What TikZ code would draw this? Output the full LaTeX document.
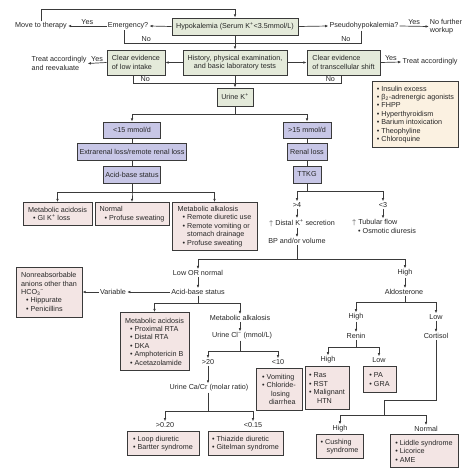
\documentclass[tikz,border=0pt]{standalone}
\usepackage{fontspec}
\setmainfont{Liberation Sans}
\usetikzlibrary{arrows.meta}

\definecolor{boxgreen}{HTML}{E4EADA}
\definecolor{boxblue}{HTML}{C7C6E6}
\definecolor{boxpink}{HTML}{F3E5E4}
\definecolor{boxtan}{HTML}{FBF1E1}
\definecolor{edge}{HTML}{3A3A3A}

\newcommand{\itembul}{\textbullet\ }
\newcommand{\subbul}{\hspace*{5pt}\textbullet\ }
\newcommand{\subcont}{\hspace*{5pt}\phantom{\textbullet\ }}

\begin{document}
\begin{tikzpicture}[x=1pt, y=-1pt,
  font=\fontsize{7.2}{8.4}\selectfont, text=black!85,
  conn/.style={draw=edge, line width=0.7pt},
  arr/.style={conn, -{Latex[length=3.2pt, width=2.6pt]}},
  basebox/.style={draw=edge, line width=1pt, inner sep=2pt, align=center},
  gbox/.style={basebox, fill=boxgreen},
  bbox/.style={basebox, fill=boxblue},
  pbox/.style={basebox, fill=boxpink, align=left, anchor=north},
  lbl/.style={inner sep=1pt, align=center},
  yn/.style={inner sep=1pt, above}]

  \fill[white] (0,0) rectangle (474,471);

  % top row
  \node[gbox, minimum width=126, minimum height=17] (hypo) at (235,26.5) {Hypokalemia (Serum K\textsuperscript{+}<3.5mmol/L)};
  \node[lbl] (emerg) at (128,26) {Emergency?};
  \node[lbl] (therapy) at (41,26) {Move to therapy};
  \node[lbl] (pseudo) at (364,26) {Pseudohypokalemia?};
  \node[lbl, align=left] (nofurther) at (446,26.5) {No further\\workup};
  \coordinate (loop) at (235,9);
  \coordinate (hubA) at (235,43);

  \draw[arr] (therapy.north) |- (loop) -- (hypo.north);
  \draw[arr] (hypo.west) -- (emerg.east);
  \draw[arr] (emerg.west) -- (therapy.east) node[yn, midway] {Yes};
  \draw[arr] (hypo.east) -- (pseudo.west);
  \draw[arr] (pseudo.east) -- (nofurther.west) node[yn, midway] {Yes};
  \draw[conn] ([xshift=-4pt]emerg.south) |- (hubA) node[yn, pos=0.6] {No};
  \draw[conn] ([xshift=-3pt]pseudo.south) |- (hubA) node[yn, pos=0.56] {No};

  % second row
  \node[gbox, minimum width=104, minimum height=25] (hist) at (235,62.5) {History, physical examination,\\and basic laboratory tests};
  \node[gbox, align=left, minimum width=58, minimum height=25] (lowintake) at (136,62.5) {Clear evidence\\of low intake};
  \node[gbox, align=left, minimum width=73, minimum height=25] (shift) at (343.5,62.5) {Clear evidence\\of transcellular shift};
  \node[lbl, align=left] (treatA) at (59,63.5) {Treat accordingly\\and reevaluate};
  \node[lbl] (treatB) at (430,62) {Treat accordingly};
  \coordinate (hubB) at (235,83);

  \draw[arr] (hypo.south) -- (hist.north);
  \draw[arr] (hist.west) -- (lowintake.east);
  \draw[arr] (hist.east) -- (shift.west);
  \draw[arr] (lowintake.west) -- (treatA.east) node[yn, midway] {Yes};
  \draw[arr] (shift.east) -- (treatB.west) node[yn, midway] {Yes};
  \draw[conn] ([xshift=-3pt]lowintake.south) |- (hubB) node[yn, pos=0.56] {No};
  \draw[conn] ([xshift=-2.5pt]shift.south) |- (hubB) node[yn, pos=0.55] {No};

  % urine K+
  \node[gbox, minimum width=36, minimum height=18] (urinek) at (235,97) {Urine K\textsuperscript{+}};
  \draw[arr] (hist.south) -- (urinek.north);

  \node[bbox, minimum width=57, minimum height=16] (lowK) at (132,130) {<15 mmol/d};
  \node[bbox, minimum width=104, minimum height=17] (extrarenal) at (132,151.5) {Extrarenal loss/remote renal loss};
  \node[bbox, minimum width=54, minimum height=17] (acidA) at (132,174.5) {Acid-base status};
  \node[bbox, minimum width=48, minimum height=16] (highK) at (307,130) {>15 mmol/d};
  \node[bbox, minimum width=40, minimum height=17] (renal) at (307,151.5) {Renal loss};
  \node[bbox, minimum width=28, minimum height=17] (ttkg) at (307,174.5) {TTKG};

  \draw[arr] (urinek.south) -- ++(0,8) -| (lowK.north);
  \draw[arr] (urinek.south) -- ++(0,8) -| (highK.north);
  \draw[conn] (lowK) -- (extrarenal) -- (acidA);
  \draw[conn] (highK) -- (renal) -- (ttkg);

  % causes of transcellular shift
  \node[basebox, fill=boxtan, align=left, anchor=north west, minimum width=86, minimum height=66] (causes) at (372,81)
    {\itembul Insulin excess\\\itembul β\textsubscript{2}-adrenergic agonists\\\itembul FHPP\\\itembul Hyperthyroidism\\\itembul Barium intoxication\\\itembul Theophyline\\\itembul Chloroquine};

  % extrarenal loss
  \node[pbox, minimum width=69, minimum height=23] (acidosisA) at (57.5,202) {Metabolic acidosis\\\subbul GI K\textsuperscript{+} loss};
  \node[pbox, minimum width=74, minimum height=23] (normalA) at (132,202) {Normal\\\subbul Profuse sweating};
  \node[pbox, minimum width=85, minimum height=48] (alkalosisA) at (214.5,202) {Metabolic alkalosis\\\subbul Remote diuretic use\\\subbul Remote vomiting or\\\subcont stomach drainage\\\subbul Profuse sweating};

  \draw[arr] (acidA.south) -- ++(0,9) -| (acidosisA.north);
  \draw[arr] (acidA.south) -- ++(0,9) -- (normalA.north);
  \draw[arr] (acidA.south) -- ++(0,9) -| (alkalosisA.north);

  % TTKG
  \node[lbl] (gtfour) at (297,205) {>4};
  \node[lbl] (ltthree) at (383,205) {<3};
  \node[lbl] (distal) at (302,223) {$\uparrow$ Distal K\textsuperscript{+} secretion};
  \node[lbl, align=left, anchor=north west] (tubular) at (351,218.5) {$\uparrow$ Tubular flow\\\hspace*{6pt}\textbullet\ Osmotic diuresis};
  \node[lbl] (bpvol) at (297,241) {BP and/or volume};

  \draw[arr] (ttkg.south) -- ++(0,8) -| (gtfour.north);
  \draw[arr] (ttkg.south) -- ++(0,8) -| (ltthree.north);
  \draw[arr] (gtfour) -- (gtfour |- distal.north);
  \draw[arr] (ltthree) -- (ltthree |- tubular.north);
  \draw[arr] (gtfour |- distal.south) -- (bpvol);

  % BP low or normal
  \node[lbl] (lowor) at (198,273) {Low OR normal};
  \node[lbl] (acidB) at (198,292) {Acid-base status};
  \node[lbl] (variable) at (113,292) {Variable};
  \node[pbox, anchor=center, minimum width=66, minimum height=50] (anions) at (49,292) {Nonreabsorbable\\anions other than\\HCO\textsubscript{3}\textsuperscript{−}\\\subbul Hippurate\\\subbul Penicillins};
  \node[pbox, minimum width=69, minimum height=58] (acidosisB) at (154.5,312) {Metabolic acidosis\\\subbul Proximal RTA\\\subbul Distal RTA\\\subbul DKA\\\subbul Amphotericin B\\\subbul Acetazolamide};
  \node[lbl] (alkalosisB) at (240,318) {Metabolic alkalosis};
  \node[lbl] (urinecl) at (242,336) {Urine Cl\textsuperscript{−} (mmol/L)};
  \node[lbl] (gt20) at (208,362) {>20};
  \node[lbl] (lt10) at (278,362) {<10};
  \node[lbl] (cacr) at (209,388) {Urine Ca/Cr (molar ratio)};
  \node[lbl] (gtpt20) at (165,425) {>0.20};
  \node[lbl] (ltpt15) at (253,425) {<0.15};
  \node[pbox, minimum width=46, minimum height=42] (vomiting) at (279,368) {\itembul Vomiting\\\itembul Chloride-\\\hspace*{9pt}losing\\\hspace*{7pt}diarrhea};
  \node[pbox, minimum width=72, minimum height=24] (loopdiur) at (163,431) {\itembul Loop diuretic\\\itembul Bartter syndrome};
  \node[pbox, minimum width=75, minimum height=24] (thiazide) at (245.5,431) {\itembul Thiazide diuretic\\\itembul Gitelman syndrome};
  \coordinate (hubC) at (297,259);
  \coordinate (hubD) at (198,303);
  \coordinate (hubE) at (240,351);
  \coordinate (hubF) at (208,411);

  \draw[conn] (bpvol) -- (hubC);
  \draw[arr] (hubC) -| (lowor);
  \draw[arr] (lowor) -- (acidB);
  \draw[arr] (acidB) -- (variable);
  \draw[arr] (variable) -- (anions);
  \draw[conn] (acidB) -- (hubD);
  \draw[arr] (hubD) -| (acidosisB.north);
  \draw[arr] (hubD) -| (alkalosisB);
  \draw[arr] (alkalosisB) -- (alkalosisB |- urinecl.north);
  \draw[conn] (alkalosisB |- urinecl.south) -- (hubE);
  \draw[arr] (hubE) -| (gt20);
  \draw[arr] (hubE) -| (lt10);
  \draw[arr] (gt20) -- (gt20 |- cacr.north);
  \draw[conn] (gt20 |- cacr.south) -- (hubF);
  \draw[arr] (hubF) -| (gtpt20);
  \draw[arr] (hubF) -| (ltpt15);

  % BP high
  \node[lbl] (highA) at (405,273) {High};
  \node[lbl] (aldo) at (404,292) {Aldosterone};
  \node[lbl] (highB) at (356,317) {High};
  \node[lbl] (lowB) at (436,317) {Low};
  \node[lbl] (renin) at (356,336) {Renin};
  \node[lbl] (cortisol) at (436,336) {Cortisol};
  \node[lbl] (highC) at (328,360) {High};
  \node[lbl] (lowC) at (379,360) {Low};
  \node[pbox, minimum width=44, minimum height=43] (ras) at (327,366) {\itembul Ras\\\itembul RST\\\itembul Malignant\\\hspace*{8pt}HTN};
  \node[pbox, minimum width=33, minimum height=26] (pa) at (379.5,366) {\itembul PA\\\itembul GRA};
  \node[lbl] (highD) at (340,429) {High};
  \node[lbl] (normalD) at (426,429) {Normal};
  \node[pbox, minimum width=47, minimum height=24] (cushing) at (339.5,434) {\itembul Cushing\\\hspace*{6pt}syndrome};
  \node[pbox, minimum width=68, minimum height=33] (liddle) at (424,434) {\itembul Liddle syndrome\\\itembul Licorice\\\itembul AME};
  \coordinate (hubG) at (405,302);
  \coordinate (hubH) at (356,347);
  \coordinate (bendA) at (436,400);
  \coordinate (bendB) at (384,400);
  \coordinate (hubI) at (384,415);

  \draw[arr] (hubC) -| (highA);
  \draw[arr] (highA) -- (highA |- aldo.north);
  \draw[conn] (highA |- aldo.south) -- (hubG);
  \draw[arr] (hubG) -| (highB);
  \draw[arr] (hubG) -| (lowB);
  \draw[arr] (highB) -- (renin);
  \draw[arr] (lowB) -- (cortisol);
  \draw[conn] (renin) -- (hubH);
  \draw[arr] (hubH) -| (highC);
  \draw[arr] (hubH) -| (lowC);
  \draw[conn] (cortisol) -- (bendA) -- (bendB) -- (hubI);
  \draw[arr] (hubI) -| (highD);
  \draw[arr] (hubI) -| (normalD);
\end{tikzpicture}
\end{document}
